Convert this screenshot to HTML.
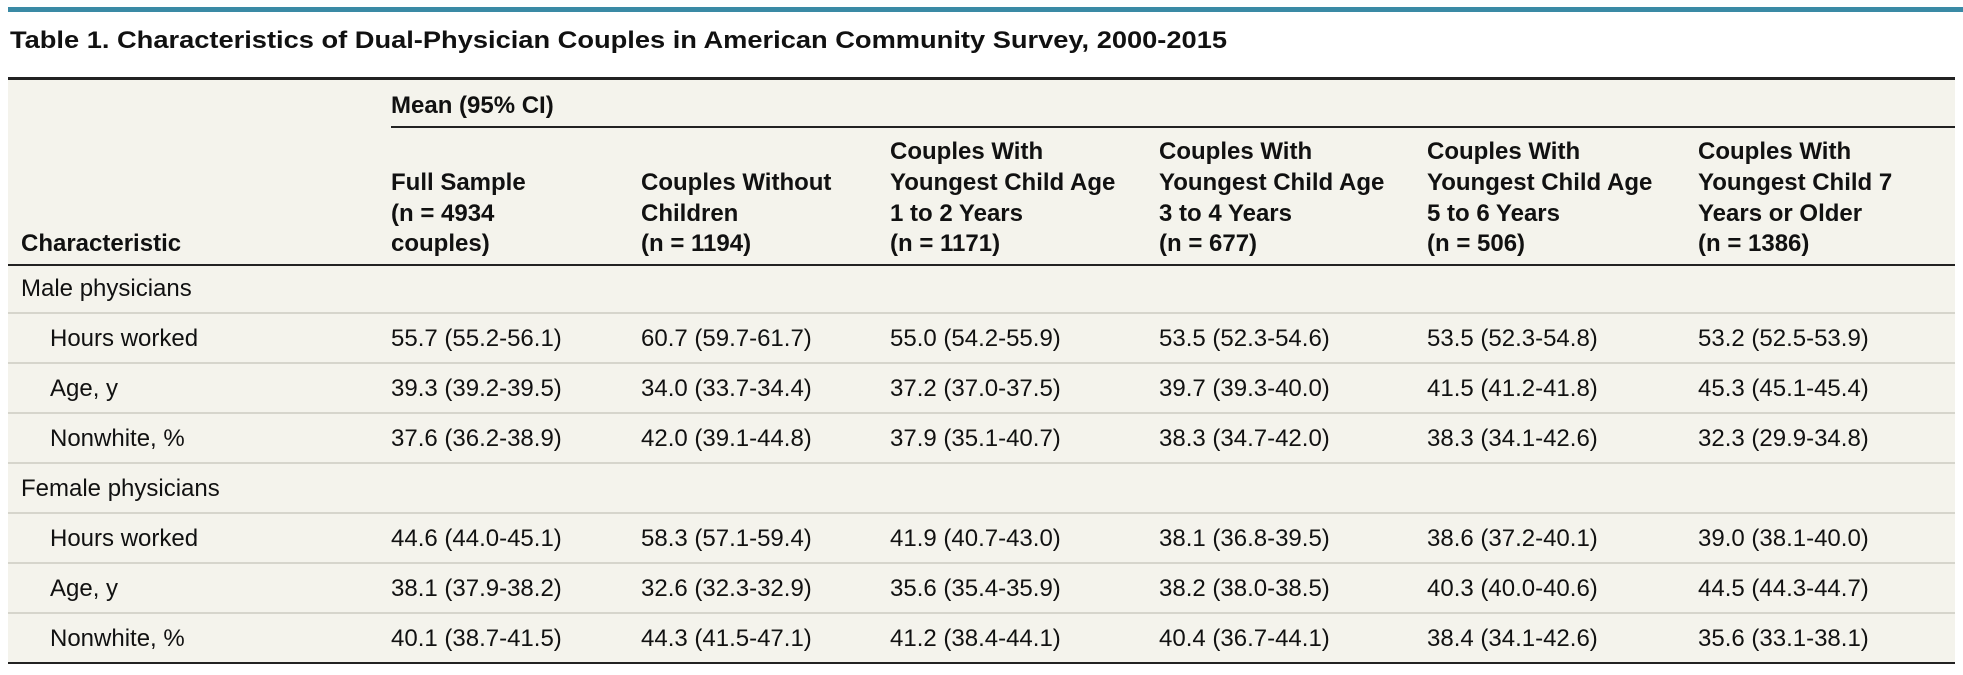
<!DOCTYPE html>
<html><head><meta charset="utf-8"><style>
html,body{margin:0;padding:0;background:#fff;}
svg{display:block;}
text{font-family:"Liberation Sans",sans-serif;fill:#111;font-size:24px;}
.b{font-weight:bold;}
</style></head><body>
<svg width="1963" height="675" viewBox="0 0 1963 675" xmlns="http://www.w3.org/2000/svg">
<rect x="0" y="0" width="1963" height="675" fill="#fff"/>
<rect x="8" y="7" width="1955" height="5" fill="#3a8aa5"/>
<text x="10" y="48" class="b" font-size="27" textLength="1217" lengthAdjust="spacingAndGlyphs">Table 1. Characteristics of Dual-Physician Couples in American Community Survey, 2000-2015</text>
<rect x="8" y="78" width="1947" height="585" fill="#f4f3ec"/>
<rect x="8" y="77" width="1947" height="3" fill="#222"/>
<text x="391" y="113" class="b">Mean (95% CI)</text>
<rect x="391" y="126" width="1564" height="2" fill="#222"/>
<g class="b">
<text x="21" y="251" class="b">Characteristic</text>
<text x="391" y="190" class="b">Full Sample</text><text x="391" y="221" class="b">(n = 4934</text><text x="391" y="251" class="b">couples)</text>
<text x="641" y="190" class="b">Couples Without</text><text x="641" y="221" class="b">Children</text><text x="641" y="251" class="b">(n = 1194)</text>
<text x="890" y="159" class="b">Couples With</text><text x="890" y="190" class="b">Youngest Child Age</text><text x="890" y="221" class="b">1 to 2 Years</text><text x="890" y="251" class="b">(n = 1171)</text>
<text x="1159" y="159" class="b">Couples With</text><text x="1159" y="190" class="b">Youngest Child Age</text><text x="1159" y="221" class="b">3 to 4 Years</text><text x="1159" y="251" class="b">(n = 677)</text>
<text x="1427" y="159" class="b">Couples With</text><text x="1427" y="190" class="b">Youngest Child Age</text><text x="1427" y="221" class="b">5 to 6 Years</text><text x="1427" y="251" class="b">(n = 506)</text>
<text x="1698" y="159" class="b">Couples With</text><text x="1698" y="190" class="b">Youngest Child 7</text><text x="1698" y="221" class="b">Years or Older</text><text x="1698" y="251" class="b">(n = 1386)</text>
</g>
<rect x="8" y="264" width="1947" height="2" fill="#222"/>
<g fill="#d6d5cc">
<rect x="8" y="312" width="1947" height="2"/><rect x="8" y="362" width="1947" height="2"/>
<rect x="8" y="412" width="1947" height="2"/><rect x="8" y="462" width="1947" height="2"/>
<rect x="8" y="512" width="1947" height="2"/><rect x="8" y="562" width="1947" height="2"/>
<rect x="8" y="612" width="1947" height="2"/>
</g>
<rect x="8" y="662" width="1947" height="2" fill="#222"/>
<text x="21" y="296">Male physicians</text>
<text x="50" y="346">Hours worked</text>
<text x="391" y="346">55.7 (55.2-56.1)</text><text x="641" y="346">60.7 (59.7-61.7)</text><text x="890" y="346">55.0 (54.2-55.9)</text><text x="1159" y="346">53.5 (52.3-54.6)</text><text x="1427" y="346">53.5 (52.3-54.8)</text><text x="1698" y="346">53.2 (52.5-53.9)</text>
<text x="50" y="396">Age, y</text>
<text x="391" y="396">39.3 (39.2-39.5)</text><text x="641" y="396">34.0 (33.7-34.4)</text><text x="890" y="396">37.2 (37.0-37.5)</text><text x="1159" y="396">39.7 (39.3-40.0)</text><text x="1427" y="396">41.5 (41.2-41.8)</text><text x="1698" y="396">45.3 (45.1-45.4)</text>
<text x="50" y="446">Nonwhite, %</text>
<text x="391" y="446">37.6 (36.2-38.9)</text><text x="641" y="446">42.0 (39.1-44.8)</text><text x="890" y="446">37.9 (35.1-40.7)</text><text x="1159" y="446">38.3 (34.7-42.0)</text><text x="1427" y="446">38.3 (34.1-42.6)</text><text x="1698" y="446">32.3 (29.9-34.8)</text>
<text x="21" y="496">Female physicians</text>
<text x="50" y="546">Hours worked</text>
<text x="391" y="546">44.6 (44.0-45.1)</text><text x="641" y="546">58.3 (57.1-59.4)</text><text x="890" y="546">41.9 (40.7-43.0)</text><text x="1159" y="546">38.1 (36.8-39.5)</text><text x="1427" y="546">38.6 (37.2-40.1)</text><text x="1698" y="546">39.0 (38.1-40.0)</text>
<text x="50" y="596">Age, y</text>
<text x="391" y="596">38.1 (37.9-38.2)</text><text x="641" y="596">32.6 (32.3-32.9)</text><text x="890" y="596">35.6 (35.4-35.9)</text><text x="1159" y="596">38.2 (38.0-38.5)</text><text x="1427" y="596">40.3 (40.0-40.6)</text><text x="1698" y="596">44.5 (44.3-44.7)</text>
<text x="50" y="646">Nonwhite, %</text>
<text x="391" y="646">40.1 (38.7-41.5)</text><text x="641" y="646">44.3 (41.5-47.1)</text><text x="890" y="646">41.2 (38.4-44.1)</text><text x="1159" y="646">40.4 (36.7-44.1)</text><text x="1427" y="646">38.4 (34.1-42.6)</text><text x="1698" y="646">35.6 (33.1-38.1)</text>
</svg>
</body></html>
